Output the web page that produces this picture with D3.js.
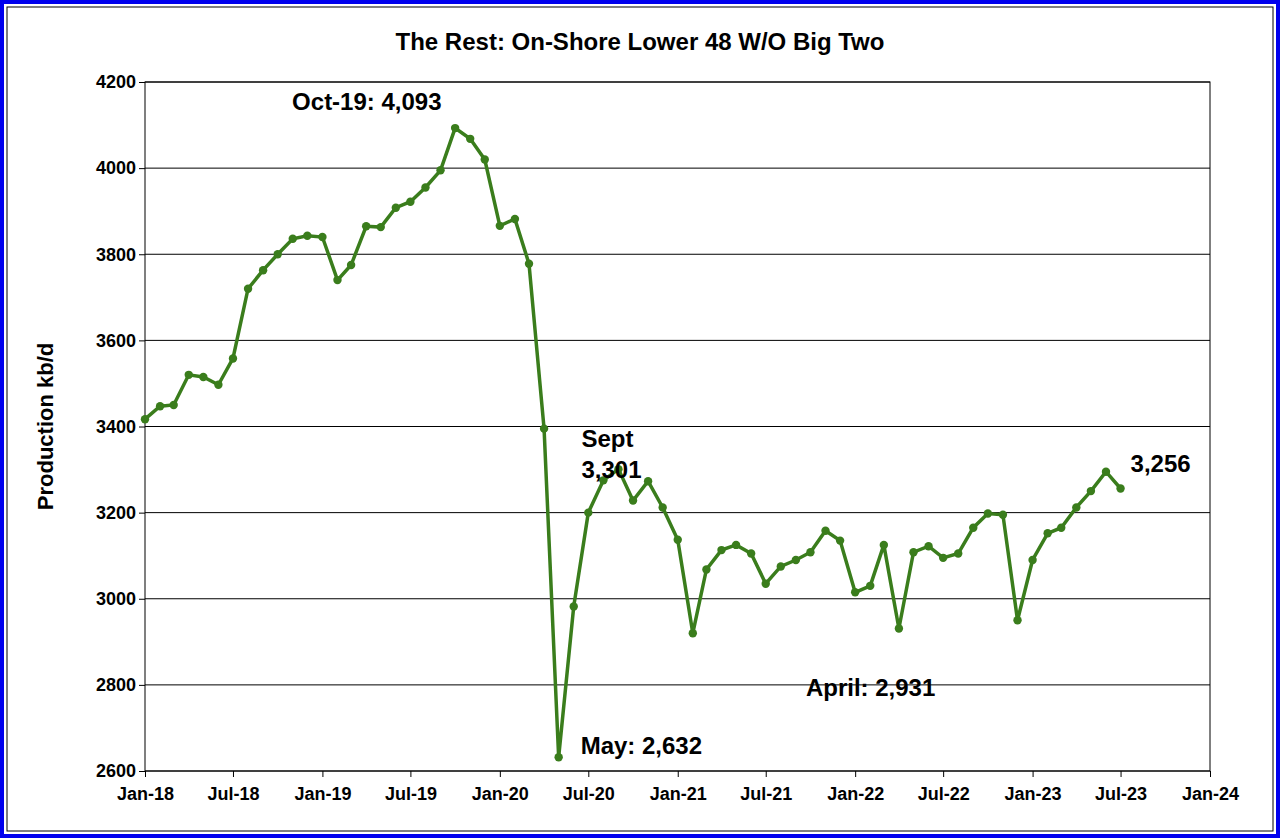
<!DOCTYPE html><html><head><meta charset="utf-8">
<script src="https://cdn.jsdelivr.net/npm/d3@7/dist/d3.min.js"></script>
<style>body{margin:0;background:#fff}svg{display:block;font-family:"Liberation Sans",Arial,sans-serif}</style>
</head><body><svg id="c" width="1280" height="838"></svg><script>
const startMonth = "2018-01";
const values = [3417,3447,3450,3520,3515,3497,3558,3720,3763,3800,3836,3843,
3840,3740,3775,3865,3863,3908,3922,3955,3995,4093,4068,4020,
3866,3882,3778,3395,2632,2982,3200,3275,3301,3228,3273,3212,
3137,2920,3068,3113,3125,3105,3035,3075,3090,3108,3158,3135,
3015,3030,3125,2931,3108,3122,3095,3105,3165,3198,3195,2950,
3090,3152,3165,3212,3250,3295,3256];
const xTickLabels = ["Jan-18","Jul-18","Jan-19","Jul-19","Jan-20","Jul-20","Jan-21","Jul-21","Jan-22","Jul-22","Jan-23","Jul-23","Jan-24"];
const yTicks = [2600,2800,3000,3200,3400,3600,3800,4000,4200];
const annotations = [
 {i:21, lines:["Oct-19: 4,093"], dx:-163, dy:-18},
 {i:28, lines:["May: 2,632"], dx:22, dy:-3},
 {i:32, lines:["Sept","3,301"], dx:-37, dy:-22},
 {i:51, lines:["April: 2,931"], dx:-93, dy:68},
 {i:66, lines:["3,256"], dx:10, dy:-17}];
const parse = d3.timeParse("%Y-%m");
const t0 = parse(startMonth);
const data = values.map((v,i)=>({d:d3.timeMonth.offset(t0,i), v}));
const svg = d3.select("#c");
svg.append("rect").attr("x",2).attr("y",2).attr("width",1276).attr("height",834).attr("fill","none").attr("stroke","#0000ee").attr("stroke-width",4);
svg.append("rect").attr("x",7).attr("y",7).attr("width",1266).attr("height",824).attr("fill","none").attr("stroke","#000").attr("stroke-width",1);
const L=145,R=1210,T=82,B=771;
const x = d3.scaleTime().domain([t0, parse("2024-01")]).range([L,R]);
const y = d3.scaleLinear().domain([2600,4200]).range([B,T]);
const g = svg.append("g");
g.selectAll(".gl").data(yTicks).join("line").attr("x1",L).attr("x2",R).attr("y1",d=>y(d)).attr("y2",d=>y(d)).attr("stroke","#000").attr("stroke-width",1);
g.append("rect").attr("x",L).attr("y",T).attr("width",R-L).attr("height",B-T).attr("fill","none").attr("stroke","#000");
const xTicks = xTickLabels.map((s,i)=>d3.timeMonth.offset(t0,6*i));
const xa = svg.append("g").attr("transform",`translate(0,${B})`).call(d3.axisBottom(x).tickValues(xTicks).tickFormat((d,i)=>xTickLabels[i]).tickSize(6));
const ya = svg.append("g").attr("transform",`translate(${L},0)`).call(d3.axisLeft(y).tickValues(yTicks).tickFormat(d3.format("d")).tickSize(6));
[xa,ya].forEach(a=>{a.select(".domain").remove();a.selectAll("line").attr("stroke","#000");a.selectAll("text").attr("font-size",18).attr("font-weight","bold").attr("fill","#000").attr("font-family","Liberation Sans, Arial");});
xa.selectAll("text").attr("dy","1.1em");
svg.append("path").datum(data).attr("fill","none").attr("stroke","#3a7d1c").attr("stroke-width",3.5)
 .attr("d",d3.line().x(d=>x(d.d)).y(d=>y(d.v)));
svg.selectAll(".pt").data(data).join("circle").attr("cx",d=>x(d.d)).attr("cy",d=>y(d.v)).attr("r",4.2).attr("fill","#3a7d1c");
svg.append("text").attr("x",640).attr("y",50).attr("text-anchor","middle").attr("font-size",24).attr("font-weight","bold").text("The Rest: On-Shore Lower 48 W/O Big Two");
svg.append("text").attr("transform",`translate(53,${(T+B)/2}) rotate(-90)`).attr("text-anchor","middle").attr("font-size",22).attr("font-weight","bold").text("Production kb/d");
annotations.forEach(a=>{const d=data[a.i];const t=svg.append("text").attr("font-size",24).attr("font-weight","bold")
 .attr("x",x(d.d)+a.dx).attr("y",y(d.v)+a.dy);
 a.lines.forEach((l,k)=>t.append("tspan").attr("x",x(d.d)+a.dx).attr("dy",k?"1.3em":0).text(l));});
</script></body></html>
